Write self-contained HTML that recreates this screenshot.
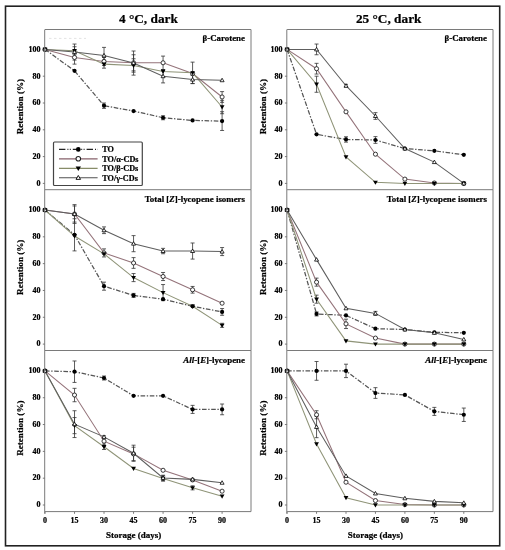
<!DOCTYPE html>
<html><head><meta charset="utf-8"><style>html,body{margin:0;padding:0;background:#fff;width:505px;height:550px;overflow:hidden}svg{display:block;will-change:transform}text{stroke:#000;stroke-width:0.22px}</style></head>
<body><svg width="505" height="550" viewBox="0 0 505 550" font-family='"Liberation Serif", serif' fill="#000"><rect x="0" y="0" width="505" height="550" fill="#fff"/>
<rect x="5.5" y="6.2" width="494.2" height="539.6" fill="none" stroke="#222" stroke-width="1.6"/>
<text x="148.4" y="22.8" text-anchor="middle" font-size="13.3" font-weight="bold">4 °C, dark</text>
<text x="388.7" y="22.8" text-anchor="middle" font-size="13.3" font-weight="bold">25 °C, dark</text>
<path d="M45.00,29.50 H251.00 V189.70" fill="none" stroke="#7a7a7a" stroke-width="1"/>
<line x1="42.80" y1="183.40" x2="45.00" y2="183.40" stroke="#7a7a7a" stroke-width="1"/>
<text x="40.40" y="185.70" text-anchor="end" font-size="8" font-weight="bold">0</text>
<line x1="42.80" y1="156.60" x2="45.00" y2="156.60" stroke="#7a7a7a" stroke-width="1"/>
<text x="40.40" y="158.90" text-anchor="end" font-size="8" font-weight="bold">20</text>
<line x1="42.80" y1="129.80" x2="45.00" y2="129.80" stroke="#7a7a7a" stroke-width="1"/>
<text x="40.40" y="132.10" text-anchor="end" font-size="8" font-weight="bold">40</text>
<line x1="42.80" y1="103.00" x2="45.00" y2="103.00" stroke="#7a7a7a" stroke-width="1"/>
<text x="40.40" y="105.30" text-anchor="end" font-size="8" font-weight="bold">60</text>
<line x1="42.80" y1="76.20" x2="45.00" y2="76.20" stroke="#7a7a7a" stroke-width="1"/>
<text x="40.40" y="78.50" text-anchor="end" font-size="8" font-weight="bold">80</text>
<line x1="42.80" y1="49.40" x2="45.00" y2="49.40" stroke="#7a7a7a" stroke-width="1"/>
<text x="40.40" y="51.70" text-anchor="end" font-size="8" font-weight="bold">100</text>
<text transform="translate(23.20,106.60) rotate(-90)" text-anchor="middle" font-size="9.1" font-weight="bold">Retention (%)</text>
<text x="245.00" y="41.30" text-anchor="end" font-size="8.9" font-weight="bold">β-Carotene</text>
<path d="M74.52,50.74 V64.14 M72.52,50.74 H76.52 M72.52,64.14 H76.52" stroke="#333" stroke-width="0.8" fill="none"/>
<path d="M74.52,46.72 V54.76 M72.52,46.72 H76.52 M72.52,54.76 H76.52" stroke="#333" stroke-width="0.8" fill="none"/>
<path d="M74.52,44.04 V60.12 M72.52,44.04 H76.52 M72.52,60.12 H76.52" stroke="#333" stroke-width="0.8" fill="none"/>
<path d="M104.03,47.39 V63.47 M102.03,47.39 H106.03 M102.03,63.47 H106.03" stroke="#333" stroke-width="0.8" fill="none"/>
<path d="M104.03,57.44 V65.48 M102.03,57.44 H106.03 M102.03,65.48 H106.03" stroke="#333" stroke-width="0.8" fill="none"/>
<path d="M104.03,60.12 V68.16 M102.03,60.12 H106.03 M102.03,68.16 H106.03" stroke="#333" stroke-width="0.8" fill="none"/>
<path d="M104.03,103.00 V108.36 M102.03,103.00 H106.03 M102.03,108.36 H106.03" stroke="#333" stroke-width="0.8" fill="none"/>
<path d="M133.55,51.01 V75.13 M131.55,51.01 H135.55 M131.55,75.13 H135.55" stroke="#333" stroke-width="0.8" fill="none"/>
<path d="M133.55,54.76 V70.84 M131.55,54.76 H135.55 M131.55,70.84 H135.55" stroke="#333" stroke-width="0.8" fill="none"/>
<path d="M133.55,58.78 V72.18 M131.55,58.78 H135.55 M131.55,72.18 H135.55" stroke="#333" stroke-width="0.8" fill="none"/>
<path d="M163.07,69.50 V82.90 M161.07,69.50 H165.07 M161.07,82.90 H165.07" stroke="#333" stroke-width="0.8" fill="none"/>
<path d="M163.07,56.10 V69.50 M161.07,56.10 H165.07 M161.07,69.50 H165.07" stroke="#333" stroke-width="0.8" fill="none"/>
<path d="M192.58,62.13 V83.57 M190.58,62.13 H194.58 M190.58,83.57 H194.58" stroke="#333" stroke-width="0.8" fill="none"/>
<path d="M192.58,75.53 V83.57 M190.58,75.53 H194.58 M190.58,83.57 H194.58" stroke="#333" stroke-width="0.8" fill="none"/>
<path d="M222.10,91.61 V102.33 M220.10,91.61 H224.10 M220.10,102.33 H224.10" stroke="#333" stroke-width="0.8" fill="none"/>
<path d="M222.10,100.32 V113.72 M220.10,100.32 H224.10 M220.10,113.72 H224.10" stroke="#333" stroke-width="0.8" fill="none"/>
<path d="M222.10,111.71 V130.47 M220.10,111.71 H224.10 M220.10,130.47 H224.10" stroke="#333" stroke-width="0.8" fill="none"/>
<path d="M163.07,115.73 V119.75 M161.07,115.73 H165.07 M161.07,119.75 H165.07" stroke="#333" stroke-width="0.8" fill="none"/>
<polyline points="45.00,49.40 74.52,70.84 104.03,105.68 133.55,111.04 163.07,117.74 192.58,120.42 222.10,121.09" fill="none" stroke="#555555" stroke-width="1.25" stroke-dasharray="4.6,1.6,1.4,1.6"/>
<polyline points="45.00,49.40 74.52,57.44 104.03,61.46 133.55,62.80 163.07,62.80 192.58,73.52 222.10,96.97" fill="none" stroke="#94737a" stroke-width="1.05"/>
<polyline points="45.00,49.40 74.52,50.74 104.03,64.14 133.55,65.48 163.07,71.51 192.58,72.85 222.10,107.02" fill="none" stroke="#8f9478" stroke-width="1.05"/>
<polyline points="45.00,49.40 74.52,52.08 104.03,55.43 133.55,63.07 163.07,76.20 192.58,79.55 222.10,80.22" fill="none" stroke="#5e5e5e" stroke-width="1.05"/>
<circle cx="45.00" cy="49.40" r="2.1" fill="#000"/>
<circle cx="74.52" cy="70.84" r="2.1" fill="#000"/>
<circle cx="104.03" cy="105.68" r="2.1" fill="#000"/>
<circle cx="133.55" cy="111.04" r="2.1" fill="#000"/>
<circle cx="163.07" cy="117.74" r="2.1" fill="#000"/>
<circle cx="192.58" cy="120.42" r="2.1" fill="#000"/>
<circle cx="222.10" cy="121.09" r="2.1" fill="#000"/>
<circle cx="45.00" cy="49.40" r="2.05" fill="#fff" stroke="#222" stroke-width="0.9"/>
<circle cx="74.52" cy="57.44" r="2.05" fill="#fff" stroke="#222" stroke-width="0.9"/>
<circle cx="104.03" cy="61.46" r="2.05" fill="#fff" stroke="#222" stroke-width="0.9"/>
<circle cx="133.55" cy="62.80" r="2.05" fill="#fff" stroke="#222" stroke-width="0.9"/>
<circle cx="163.07" cy="62.80" r="2.05" fill="#fff" stroke="#222" stroke-width="0.9"/>
<circle cx="192.58" cy="73.52" r="2.05" fill="#fff" stroke="#222" stroke-width="0.9"/>
<circle cx="222.10" cy="96.97" r="2.05" fill="#fff" stroke="#222" stroke-width="0.9"/>
<path d="M42.60,47.70 L47.40,47.70 L45.00,51.90 Z" fill="#000"/>
<path d="M72.12,49.04 L76.92,49.04 L74.52,53.24 Z" fill="#000"/>
<path d="M101.63,62.44 L106.43,62.44 L104.03,66.64 Z" fill="#000"/>
<path d="M131.15,63.78 L135.95,63.78 L133.55,67.98 Z" fill="#000"/>
<path d="M160.67,69.81 L165.47,69.81 L163.07,74.01 Z" fill="#000"/>
<path d="M190.18,71.15 L194.98,71.15 L192.58,75.35 Z" fill="#000"/>
<path d="M219.70,105.32 L224.50,105.32 L222.10,109.52 Z" fill="#000"/>
<path d="M43.00,50.90 L47.00,50.90 L45.00,47.40 Z" fill="#fff" stroke="#000" stroke-width="0.8"/>
<path d="M72.52,53.58 L76.52,53.58 L74.52,50.08 Z" fill="#fff" stroke="#000" stroke-width="0.8"/>
<path d="M102.03,56.93 L106.03,56.93 L104.03,53.43 Z" fill="#fff" stroke="#000" stroke-width="0.8"/>
<path d="M131.55,64.57 L135.55,64.57 L133.55,61.07 Z" fill="#fff" stroke="#000" stroke-width="0.8"/>
<path d="M161.07,77.70 L165.07,77.70 L163.07,74.20 Z" fill="#fff" stroke="#000" stroke-width="0.8"/>
<path d="M190.58,81.05 L194.58,81.05 L192.58,77.55 Z" fill="#fff" stroke="#000" stroke-width="0.8"/>
<path d="M220.10,81.72 L224.10,81.72 L222.10,78.22 Z" fill="#fff" stroke="#000" stroke-width="0.8"/>
<path d="M45.00,189.70 H251.00 V350.50" fill="none" stroke="#7a7a7a" stroke-width="1"/>
<line x1="42.80" y1="344.10" x2="45.00" y2="344.10" stroke="#7a7a7a" stroke-width="1"/>
<text x="40.40" y="346.40" text-anchor="end" font-size="8" font-weight="bold">0</text>
<line x1="42.80" y1="317.28" x2="45.00" y2="317.28" stroke="#7a7a7a" stroke-width="1"/>
<text x="40.40" y="319.58" text-anchor="end" font-size="8" font-weight="bold">20</text>
<line x1="42.80" y1="290.46" x2="45.00" y2="290.46" stroke="#7a7a7a" stroke-width="1"/>
<text x="40.40" y="292.76" text-anchor="end" font-size="8" font-weight="bold">40</text>
<line x1="42.80" y1="263.64" x2="45.00" y2="263.64" stroke="#7a7a7a" stroke-width="1"/>
<text x="40.40" y="265.94" text-anchor="end" font-size="8" font-weight="bold">60</text>
<line x1="42.80" y1="236.82" x2="45.00" y2="236.82" stroke="#7a7a7a" stroke-width="1"/>
<text x="40.40" y="239.12" text-anchor="end" font-size="8" font-weight="bold">80</text>
<line x1="42.80" y1="210.00" x2="45.00" y2="210.00" stroke="#7a7a7a" stroke-width="1"/>
<text x="40.40" y="212.30" text-anchor="end" font-size="8" font-weight="bold">100</text>
<text transform="translate(23.20,267.25) rotate(-90)" text-anchor="middle" font-size="9.1" font-weight="bold">Retention (%)</text>
<text x="245.00" y="202.30" text-anchor="end" font-size="8.9" font-weight="bold">Total [<tspan font-style="italic">Z</tspan>]-lycopene isomers</text>
<path d="M74.52,204.64 V223.41 M72.52,204.64 H76.52 M72.52,223.41 H76.52" stroke="#333" stroke-width="0.8" fill="none"/>
<path d="M74.52,205.98 V222.07 M72.52,205.98 H76.52 M72.52,222.07 H76.52" stroke="#333" stroke-width="0.8" fill="none"/>
<path d="M74.52,218.72 V250.90 M72.52,218.72 H76.52 M72.52,250.90 H76.52" stroke="#333" stroke-width="0.8" fill="none"/>
<path d="M104.03,226.90 V233.60 M102.03,226.90 H106.03 M102.03,233.60 H106.03" stroke="#333" stroke-width="0.8" fill="none"/>
<path d="M104.03,248.89 V256.94 M102.03,248.89 H106.03 M102.03,256.94 H106.03" stroke="#333" stroke-width="0.8" fill="none"/>
<path d="M104.03,282.15 V290.19 M102.03,282.15 H106.03 M102.03,290.19 H106.03" stroke="#333" stroke-width="0.8" fill="none"/>
<path d="M133.55,235.61 V251.71 M131.55,235.61 H135.55 M131.55,251.71 H135.55" stroke="#333" stroke-width="0.8" fill="none"/>
<path d="M133.55,257.61 V268.33 M131.55,257.61 H135.55 M131.55,268.33 H135.55" stroke="#333" stroke-width="0.8" fill="none"/>
<path d="M133.55,273.56 V281.61 M131.55,273.56 H135.55 M131.55,281.61 H135.55" stroke="#333" stroke-width="0.8" fill="none"/>
<path d="M133.55,293.41 V297.43 M131.55,293.41 H135.55 M131.55,297.43 H135.55" stroke="#333" stroke-width="0.8" fill="none"/>
<path d="M163.07,248.35 V253.72 M161.07,248.35 H165.07 M161.07,253.72 H165.07" stroke="#333" stroke-width="0.8" fill="none"/>
<path d="M163.07,272.49 V280.54 M161.07,272.49 H165.07 M161.07,280.54 H165.07" stroke="#333" stroke-width="0.8" fill="none"/>
<path d="M163.07,284.56 V300.65 M161.07,284.56 H165.07 M161.07,300.65 H165.07" stroke="#333" stroke-width="0.8" fill="none"/>
<path d="M192.58,242.99 V259.08 M190.58,242.99 H194.58 M190.58,259.08 H194.58" stroke="#333" stroke-width="0.8" fill="none"/>
<path d="M192.58,286.44 V293.14 M190.58,286.44 H194.58 M190.58,293.14 H194.58" stroke="#333" stroke-width="0.8" fill="none"/>
<path d="M222.10,247.55 V255.59 M220.10,247.55 H224.10 M220.10,255.59 H224.10" stroke="#333" stroke-width="0.8" fill="none"/>
<path d="M222.10,308.56 V315.27 M220.10,308.56 H224.10 M220.10,315.27 H224.10" stroke="#333" stroke-width="0.8" fill="none"/>
<path d="M222.10,323.31 V327.34 M220.10,323.31 H224.10 M220.10,327.34 H224.10" stroke="#333" stroke-width="0.8" fill="none"/>
<polyline points="45.00,210.00 74.52,234.81 104.03,286.17 133.55,295.42 163.07,299.18 192.58,306.28 222.10,311.92" fill="none" stroke="#555555" stroke-width="1.25" stroke-dasharray="4.6,1.6,1.4,1.6"/>
<polyline points="45.00,210.00 74.52,214.02 104.03,252.91 133.55,262.97 163.07,276.51 192.58,289.79 222.10,303.20" fill="none" stroke="#94737a" stroke-width="1.05"/>
<polyline points="45.00,210.00 74.52,236.02 104.03,253.85 133.55,277.59 163.07,292.61 192.58,306.28 222.10,325.33" fill="none" stroke="#8f9478" stroke-width="1.05"/>
<polyline points="45.00,210.00 74.52,214.02 104.03,230.25 133.55,243.66 163.07,251.03 192.58,251.03 222.10,251.57" fill="none" stroke="#5e5e5e" stroke-width="1.05"/>
<circle cx="45.00" cy="210.00" r="2.1" fill="#000"/>
<circle cx="74.52" cy="234.81" r="2.1" fill="#000"/>
<circle cx="104.03" cy="286.17" r="2.1" fill="#000"/>
<circle cx="133.55" cy="295.42" r="2.1" fill="#000"/>
<circle cx="163.07" cy="299.18" r="2.1" fill="#000"/>
<circle cx="192.58" cy="306.28" r="2.1" fill="#000"/>
<circle cx="222.10" cy="311.92" r="2.1" fill="#000"/>
<circle cx="45.00" cy="210.00" r="2.05" fill="#fff" stroke="#222" stroke-width="0.9"/>
<circle cx="74.52" cy="214.02" r="2.05" fill="#fff" stroke="#222" stroke-width="0.9"/>
<circle cx="104.03" cy="252.91" r="2.05" fill="#fff" stroke="#222" stroke-width="0.9"/>
<circle cx="133.55" cy="262.97" r="2.05" fill="#fff" stroke="#222" stroke-width="0.9"/>
<circle cx="163.07" cy="276.51" r="2.05" fill="#fff" stroke="#222" stroke-width="0.9"/>
<circle cx="192.58" cy="289.79" r="2.05" fill="#fff" stroke="#222" stroke-width="0.9"/>
<circle cx="222.10" cy="303.20" r="2.05" fill="#fff" stroke="#222" stroke-width="0.9"/>
<path d="M42.60,208.30 L47.40,208.30 L45.00,212.50 Z" fill="#000"/>
<path d="M72.12,234.32 L76.92,234.32 L74.52,238.52 Z" fill="#000"/>
<path d="M101.63,252.15 L106.43,252.15 L104.03,256.35 Z" fill="#000"/>
<path d="M131.15,275.89 L135.95,275.89 L133.55,280.09 Z" fill="#000"/>
<path d="M160.67,290.91 L165.47,290.91 L163.07,295.11 Z" fill="#000"/>
<path d="M190.18,304.58 L194.98,304.58 L192.58,308.78 Z" fill="#000"/>
<path d="M219.70,323.63 L224.50,323.63 L222.10,327.83 Z" fill="#000"/>
<path d="M43.00,211.50 L47.00,211.50 L45.00,208.00 Z" fill="#fff" stroke="#000" stroke-width="0.8"/>
<path d="M72.52,215.52 L76.52,215.52 L74.52,212.02 Z" fill="#fff" stroke="#000" stroke-width="0.8"/>
<path d="M102.03,231.75 L106.03,231.75 L104.03,228.25 Z" fill="#fff" stroke="#000" stroke-width="0.8"/>
<path d="M131.55,245.16 L135.55,245.16 L133.55,241.66 Z" fill="#fff" stroke="#000" stroke-width="0.8"/>
<path d="M161.07,252.53 L165.07,252.53 L163.07,249.03 Z" fill="#fff" stroke="#000" stroke-width="0.8"/>
<path d="M190.58,252.53 L194.58,252.53 L192.58,249.03 Z" fill="#fff" stroke="#000" stroke-width="0.8"/>
<path d="M220.10,253.07 L224.10,253.07 L222.10,249.57 Z" fill="#fff" stroke="#000" stroke-width="0.8"/>
<path d="M45.00,350.50 H251.00 V511.60" fill="none" stroke="#7a7a7a" stroke-width="1"/>
<line x1="42.80" y1="505.00" x2="45.00" y2="505.00" stroke="#7a7a7a" stroke-width="1"/>
<text x="40.40" y="507.30" text-anchor="end" font-size="8" font-weight="bold">0</text>
<line x1="42.80" y1="478.18" x2="45.00" y2="478.18" stroke="#7a7a7a" stroke-width="1"/>
<text x="40.40" y="480.48" text-anchor="end" font-size="8" font-weight="bold">20</text>
<line x1="42.80" y1="451.36" x2="45.00" y2="451.36" stroke="#7a7a7a" stroke-width="1"/>
<text x="40.40" y="453.66" text-anchor="end" font-size="8" font-weight="bold">40</text>
<line x1="42.80" y1="424.54" x2="45.00" y2="424.54" stroke="#7a7a7a" stroke-width="1"/>
<text x="40.40" y="426.84" text-anchor="end" font-size="8" font-weight="bold">60</text>
<line x1="42.80" y1="397.72" x2="45.00" y2="397.72" stroke="#7a7a7a" stroke-width="1"/>
<text x="40.40" y="400.02" text-anchor="end" font-size="8" font-weight="bold">80</text>
<line x1="42.80" y1="370.90" x2="45.00" y2="370.90" stroke="#7a7a7a" stroke-width="1"/>
<text x="40.40" y="373.20" text-anchor="end" font-size="8" font-weight="bold">100</text>
<text transform="translate(23.20,428.15) rotate(-90)" text-anchor="middle" font-size="9.1" font-weight="bold">Retention (%)</text>
<text x="245.00" y="363.10" text-anchor="end" font-size="8.9" font-weight="bold"><tspan font-style="italic">All</tspan>-[<tspan font-style="italic">E</tspan>]-lycopene</text>
<path d="M74.52,360.98 V382.43 M72.52,360.98 H76.52 M72.52,382.43 H76.52" stroke="#333" stroke-width="0.8" fill="none"/>
<path d="M74.52,388.33 V401.74 M72.52,388.33 H76.52 M72.52,401.74 H76.52" stroke="#333" stroke-width="0.8" fill="none"/>
<path d="M74.52,410.73 V437.55 M72.52,410.73 H76.52 M72.52,437.55 H76.52" stroke="#333" stroke-width="0.8" fill="none"/>
<path d="M74.52,417.57 V433.66 M72.52,417.57 H76.52 M72.52,433.66 H76.52" stroke="#333" stroke-width="0.8" fill="none"/>
<path d="M104.03,376.00 V380.02 M102.03,376.00 H106.03 M102.03,380.02 H106.03" stroke="#333" stroke-width="0.8" fill="none"/>
<path d="M104.03,435.80 V446.53 M102.03,435.80 H106.03 M102.03,446.53 H106.03" stroke="#333" stroke-width="0.8" fill="none"/>
<path d="M104.03,444.12 V449.48 M102.03,444.12 H106.03 M102.03,449.48 H106.03" stroke="#333" stroke-width="0.8" fill="none"/>
<path d="M133.55,445.19 V461.28 M131.55,445.19 H135.55 M131.55,461.28 H135.55" stroke="#333" stroke-width="0.8" fill="none"/>
<path d="M133.55,447.20 V460.61 M131.55,447.20 H135.55 M131.55,460.61 H135.55" stroke="#333" stroke-width="0.8" fill="none"/>
<path d="M163.07,475.23 V480.59 M161.07,475.23 H165.07 M161.07,480.59 H165.07" stroke="#333" stroke-width="0.8" fill="none"/>
<path d="M163.07,475.77 V481.13 M161.07,475.77 H165.07 M161.07,481.13 H165.07" stroke="#333" stroke-width="0.8" fill="none"/>
<path d="M192.58,405.36 V413.41 M190.58,405.36 H194.58 M190.58,413.41 H194.58" stroke="#333" stroke-width="0.8" fill="none"/>
<path d="M222.10,404.02 V414.75 M220.10,404.02 H224.10 M220.10,414.75 H224.10" stroke="#333" stroke-width="0.8" fill="none"/>
<path d="M192.58,485.82 V489.85 M190.58,485.82 H194.58 M190.58,489.85 H194.58" stroke="#333" stroke-width="0.8" fill="none"/>
<polyline points="45.00,370.90 74.52,371.70 104.03,378.01 133.55,395.84 163.07,395.84 192.58,409.39 222.10,409.39" fill="none" stroke="#555555" stroke-width="1.25" stroke-dasharray="4.6,1.6,1.4,1.6"/>
<polyline points="45.00,370.90 74.52,395.04 104.03,441.17 133.55,453.91 163.07,470.27 192.58,479.92 222.10,491.19" fill="none" stroke="#94737a" stroke-width="1.05"/>
<polyline points="45.00,370.90 74.52,425.61 104.03,446.80 133.55,468.52 163.07,478.45 192.58,487.84 222.10,496.28" fill="none" stroke="#8f9478" stroke-width="1.05"/>
<polyline points="45.00,370.90 74.52,424.14 104.03,436.88 133.55,453.24 163.07,477.91 192.58,479.39 222.10,482.74" fill="none" stroke="#5e5e5e" stroke-width="1.05"/>
<circle cx="45.00" cy="370.90" r="2.1" fill="#000"/>
<circle cx="74.52" cy="371.70" r="2.1" fill="#000"/>
<circle cx="104.03" cy="378.01" r="2.1" fill="#000"/>
<circle cx="133.55" cy="395.84" r="2.1" fill="#000"/>
<circle cx="163.07" cy="395.84" r="2.1" fill="#000"/>
<circle cx="192.58" cy="409.39" r="2.1" fill="#000"/>
<circle cx="222.10" cy="409.39" r="2.1" fill="#000"/>
<circle cx="45.00" cy="370.90" r="2.05" fill="#fff" stroke="#222" stroke-width="0.9"/>
<circle cx="74.52" cy="395.04" r="2.05" fill="#fff" stroke="#222" stroke-width="0.9"/>
<circle cx="104.03" cy="441.17" r="2.05" fill="#fff" stroke="#222" stroke-width="0.9"/>
<circle cx="133.55" cy="453.91" r="2.05" fill="#fff" stroke="#222" stroke-width="0.9"/>
<circle cx="163.07" cy="470.27" r="2.05" fill="#fff" stroke="#222" stroke-width="0.9"/>
<circle cx="192.58" cy="479.92" r="2.05" fill="#fff" stroke="#222" stroke-width="0.9"/>
<circle cx="222.10" cy="491.19" r="2.05" fill="#fff" stroke="#222" stroke-width="0.9"/>
<path d="M42.60,369.20 L47.40,369.20 L45.00,373.40 Z" fill="#000"/>
<path d="M72.12,423.91 L76.92,423.91 L74.52,428.11 Z" fill="#000"/>
<path d="M101.63,445.10 L106.43,445.10 L104.03,449.30 Z" fill="#000"/>
<path d="M131.15,466.82 L135.95,466.82 L133.55,471.02 Z" fill="#000"/>
<path d="M160.67,476.75 L165.47,476.75 L163.07,480.95 Z" fill="#000"/>
<path d="M190.18,486.14 L194.98,486.14 L192.58,490.34 Z" fill="#000"/>
<path d="M219.70,494.58 L224.50,494.58 L222.10,498.78 Z" fill="#000"/>
<path d="M43.00,372.40 L47.00,372.40 L45.00,368.90 Z" fill="#fff" stroke="#000" stroke-width="0.8"/>
<path d="M72.52,425.64 L76.52,425.64 L74.52,422.14 Z" fill="#fff" stroke="#000" stroke-width="0.8"/>
<path d="M102.03,438.38 L106.03,438.38 L104.03,434.88 Z" fill="#fff" stroke="#000" stroke-width="0.8"/>
<path d="M131.55,454.74 L135.55,454.74 L133.55,451.24 Z" fill="#fff" stroke="#000" stroke-width="0.8"/>
<path d="M161.07,479.41 L165.07,479.41 L163.07,475.91 Z" fill="#fff" stroke="#000" stroke-width="0.8"/>
<path d="M190.58,480.89 L194.58,480.89 L192.58,477.39 Z" fill="#fff" stroke="#000" stroke-width="0.8"/>
<path d="M220.10,484.24 L224.10,484.24 L222.10,480.74 Z" fill="#fff" stroke="#000" stroke-width="0.8"/>
<line x1="44.70" y1="29.50" x2="44.70" y2="513.60" stroke="#7a7a7a" stroke-width="1"/>
<line x1="45.00" y1="511.60" x2="251.00" y2="511.60" stroke="#7a7a7a" stroke-width="1"/>
<line x1="45.00" y1="511.60" x2="45.00" y2="513.80" stroke="#7a7a7a" stroke-width="1"/>
<text x="45.00" y="522.70" text-anchor="middle" font-size="8" font-weight="bold">0</text>
<line x1="74.52" y1="511.60" x2="74.52" y2="513.80" stroke="#7a7a7a" stroke-width="1"/>
<text x="74.52" y="522.70" text-anchor="middle" font-size="8" font-weight="bold">15</text>
<line x1="104.03" y1="511.60" x2="104.03" y2="513.80" stroke="#7a7a7a" stroke-width="1"/>
<text x="104.03" y="522.70" text-anchor="middle" font-size="8" font-weight="bold">30</text>
<line x1="133.55" y1="511.60" x2="133.55" y2="513.80" stroke="#7a7a7a" stroke-width="1"/>
<text x="133.55" y="522.70" text-anchor="middle" font-size="8" font-weight="bold">45</text>
<line x1="163.07" y1="511.60" x2="163.07" y2="513.80" stroke="#7a7a7a" stroke-width="1"/>
<text x="163.07" y="522.70" text-anchor="middle" font-size="8" font-weight="bold">60</text>
<line x1="192.58" y1="511.60" x2="192.58" y2="513.80" stroke="#7a7a7a" stroke-width="1"/>
<text x="192.58" y="522.70" text-anchor="middle" font-size="8" font-weight="bold">75</text>
<line x1="222.10" y1="511.60" x2="222.10" y2="513.80" stroke="#7a7a7a" stroke-width="1"/>
<text x="222.10" y="522.70" text-anchor="middle" font-size="8" font-weight="bold">90</text>
<text x="133.55" y="538.3" text-anchor="middle" font-size="9.0" font-weight="bold">Storage (days)</text>
<path d="M287.10,29.50 H493.00 V189.70" fill="none" stroke="#7a7a7a" stroke-width="1"/>
<line x1="284.90" y1="183.40" x2="287.10" y2="183.40" stroke="#7a7a7a" stroke-width="1"/>
<text x="282.40" y="185.70" text-anchor="end" font-size="8" font-weight="bold">0</text>
<line x1="284.90" y1="156.60" x2="287.10" y2="156.60" stroke="#7a7a7a" stroke-width="1"/>
<text x="282.40" y="158.90" text-anchor="end" font-size="8" font-weight="bold">20</text>
<line x1="284.90" y1="129.80" x2="287.10" y2="129.80" stroke="#7a7a7a" stroke-width="1"/>
<text x="282.40" y="132.10" text-anchor="end" font-size="8" font-weight="bold">40</text>
<line x1="284.90" y1="103.00" x2="287.10" y2="103.00" stroke="#7a7a7a" stroke-width="1"/>
<text x="282.40" y="105.30" text-anchor="end" font-size="8" font-weight="bold">60</text>
<line x1="284.90" y1="76.20" x2="287.10" y2="76.20" stroke="#7a7a7a" stroke-width="1"/>
<text x="282.40" y="78.50" text-anchor="end" font-size="8" font-weight="bold">80</text>
<line x1="284.90" y1="49.40" x2="287.10" y2="49.40" stroke="#7a7a7a" stroke-width="1"/>
<text x="282.40" y="51.70" text-anchor="end" font-size="8" font-weight="bold">100</text>
<text transform="translate(265.50,106.60) rotate(-90)" text-anchor="middle" font-size="9.1" font-weight="bold">Retention (%)</text>
<text x="487.00" y="41.30" text-anchor="end" font-size="8.9" font-weight="bold">β-Carotene</text>
<path d="M316.55,44.04 V54.76 M314.55,44.04 H318.55 M314.55,54.76 H318.55" stroke="#333" stroke-width="0.8" fill="none"/>
<path d="M316.55,63.34 V74.06 M314.55,63.34 H318.55 M314.55,74.06 H318.55" stroke="#333" stroke-width="0.8" fill="none"/>
<path d="M316.55,76.20 V92.28 M314.55,76.20 H318.55 M314.55,92.28 H318.55" stroke="#333" stroke-width="0.8" fill="none"/>
<path d="M346.00,84.37 V87.05 M344.00,84.37 H348.00 M344.00,87.05 H348.00" stroke="#333" stroke-width="0.8" fill="none"/>
<path d="M375.45,112.65 V119.35 M373.45,112.65 H377.45 M373.45,119.35 H377.45" stroke="#333" stroke-width="0.8" fill="none"/>
<path d="M375.45,136.63 V143.33 M373.45,136.63 H377.45 M373.45,143.33 H377.45" stroke="#333" stroke-width="0.8" fill="none"/>
<path d="M346.00,136.77 V142.13 M344.00,136.77 H348.00 M344.00,142.13 H348.00" stroke="#333" stroke-width="0.8" fill="none"/>
<polyline points="287.10,49.40 316.55,134.36 346.00,139.45 375.45,139.98 404.90,148.56 434.35,150.84 463.80,154.86" fill="none" stroke="#555555" stroke-width="1.25" stroke-dasharray="4.6,1.6,1.4,1.6"/>
<polyline points="287.10,49.40 316.55,68.70 346.00,111.84 375.45,154.19 404.90,179.11 434.35,183.00 463.80,183.40" fill="none" stroke="#94737a" stroke-width="1.05"/>
<polyline points="287.10,49.40 316.55,84.24 346.00,157.00 375.45,182.33 404.90,183.40 434.35,183.40 463.80,183.40" fill="none" stroke="#8f9478" stroke-width="1.05"/>
<polyline points="287.10,49.40 316.55,49.40 346.00,85.71 375.45,116.00 404.90,148.56 434.35,162.09 463.80,183.40" fill="none" stroke="#5e5e5e" stroke-width="1.05"/>
<circle cx="287.10" cy="49.40" r="2.1" fill="#000"/>
<circle cx="316.55" cy="134.36" r="2.1" fill="#000"/>
<circle cx="346.00" cy="139.45" r="2.1" fill="#000"/>
<circle cx="375.45" cy="139.98" r="2.1" fill="#000"/>
<circle cx="404.90" cy="148.56" r="2.1" fill="#000"/>
<circle cx="434.35" cy="150.84" r="2.1" fill="#000"/>
<circle cx="463.80" cy="154.86" r="2.1" fill="#000"/>
<circle cx="287.10" cy="49.40" r="2.05" fill="#fff" stroke="#222" stroke-width="0.9"/>
<circle cx="316.55" cy="68.70" r="2.05" fill="#fff" stroke="#222" stroke-width="0.9"/>
<circle cx="346.00" cy="111.84" r="2.05" fill="#fff" stroke="#222" stroke-width="0.9"/>
<circle cx="375.45" cy="154.19" r="2.05" fill="#fff" stroke="#222" stroke-width="0.9"/>
<circle cx="404.90" cy="179.11" r="2.05" fill="#fff" stroke="#222" stroke-width="0.9"/>
<circle cx="434.35" cy="183.00" r="2.05" fill="#fff" stroke="#222" stroke-width="0.9"/>
<circle cx="463.80" cy="183.40" r="2.05" fill="#fff" stroke="#222" stroke-width="0.9"/>
<path d="M284.70,47.70 L289.50,47.70 L287.10,51.90 Z" fill="#000"/>
<path d="M314.15,82.54 L318.95,82.54 L316.55,86.74 Z" fill="#000"/>
<path d="M343.60,155.30 L348.40,155.30 L346.00,159.50 Z" fill="#000"/>
<path d="M373.05,180.63 L377.85,180.63 L375.45,184.83 Z" fill="#000"/>
<path d="M402.50,181.70 L407.30,181.70 L404.90,185.90 Z" fill="#000"/>
<path d="M431.95,181.70 L436.75,181.70 L434.35,185.90 Z" fill="#000"/>
<path d="M461.40,181.70 L466.20,181.70 L463.80,185.90 Z" fill="#000"/>
<path d="M285.10,50.90 L289.10,50.90 L287.10,47.40 Z" fill="#fff" stroke="#000" stroke-width="0.8"/>
<path d="M314.55,50.90 L318.55,50.90 L316.55,47.40 Z" fill="#fff" stroke="#000" stroke-width="0.8"/>
<path d="M344.00,87.21 L348.00,87.21 L346.00,83.71 Z" fill="#fff" stroke="#000" stroke-width="0.8"/>
<path d="M373.45,117.50 L377.45,117.50 L375.45,114.00 Z" fill="#fff" stroke="#000" stroke-width="0.8"/>
<path d="M402.90,150.06 L406.90,150.06 L404.90,146.56 Z" fill="#fff" stroke="#000" stroke-width="0.8"/>
<path d="M432.35,163.59 L436.35,163.59 L434.35,160.09 Z" fill="#fff" stroke="#000" stroke-width="0.8"/>
<path d="M461.80,184.90 L465.80,184.90 L463.80,181.40 Z" fill="#fff" stroke="#000" stroke-width="0.8"/>
<path d="M287.10,189.70 H493.00 V350.50" fill="none" stroke="#7a7a7a" stroke-width="1"/>
<line x1="284.90" y1="344.10" x2="287.10" y2="344.10" stroke="#7a7a7a" stroke-width="1"/>
<text x="282.40" y="346.40" text-anchor="end" font-size="8" font-weight="bold">0</text>
<line x1="284.90" y1="317.28" x2="287.10" y2="317.28" stroke="#7a7a7a" stroke-width="1"/>
<text x="282.40" y="319.58" text-anchor="end" font-size="8" font-weight="bold">20</text>
<line x1="284.90" y1="290.46" x2="287.10" y2="290.46" stroke="#7a7a7a" stroke-width="1"/>
<text x="282.40" y="292.76" text-anchor="end" font-size="8" font-weight="bold">40</text>
<line x1="284.90" y1="263.64" x2="287.10" y2="263.64" stroke="#7a7a7a" stroke-width="1"/>
<text x="282.40" y="265.94" text-anchor="end" font-size="8" font-weight="bold">60</text>
<line x1="284.90" y1="236.82" x2="287.10" y2="236.82" stroke="#7a7a7a" stroke-width="1"/>
<text x="282.40" y="239.12" text-anchor="end" font-size="8" font-weight="bold">80</text>
<line x1="284.90" y1="210.00" x2="287.10" y2="210.00" stroke="#7a7a7a" stroke-width="1"/>
<text x="282.40" y="212.30" text-anchor="end" font-size="8" font-weight="bold">100</text>
<text transform="translate(265.50,267.25) rotate(-90)" text-anchor="middle" font-size="9.1" font-weight="bold">Retention (%)</text>
<text x="487.00" y="202.30" text-anchor="end" font-size="8.9" font-weight="bold">Total [<tspan font-style="italic">Z</tspan>]-lycopene isomers</text>
<path d="M316.55,278.12 V286.17 M314.55,278.12 H318.55 M314.55,286.17 H318.55" stroke="#333" stroke-width="0.8" fill="none"/>
<path d="M316.55,295.15 V303.20 M314.55,295.15 H318.55 M314.55,303.20 H318.55" stroke="#333" stroke-width="0.8" fill="none"/>
<path d="M316.55,311.92 V315.94 M314.55,311.92 H318.55 M314.55,315.94 H318.55" stroke="#333" stroke-width="0.8" fill="none"/>
<path d="M346.00,319.16 V328.54 M344.00,319.16 H348.00 M344.00,328.54 H348.00" stroke="#333" stroke-width="0.8" fill="none"/>
<path d="M375.45,311.38 V315.40 M373.45,311.38 H377.45 M373.45,315.40 H377.45" stroke="#333" stroke-width="0.8" fill="none"/>
<polyline points="287.10,210.00 316.55,313.93 346.00,315.40 375.45,328.68 404.90,329.48 434.35,332.30 463.80,332.84" fill="none" stroke="#555555" stroke-width="1.25" stroke-dasharray="4.6,1.6,1.4,1.6"/>
<polyline points="287.10,210.00 316.55,282.15 346.00,323.85 375.45,338.07 404.90,344.10 434.35,344.10 463.80,344.10" fill="none" stroke="#94737a" stroke-width="1.05"/>
<polyline points="287.10,210.00 316.55,299.18 346.00,340.88 375.45,344.10 404.90,344.10 434.35,344.10 463.80,344.10" fill="none" stroke="#8f9478" stroke-width="1.05"/>
<polyline points="287.10,210.00 316.55,259.62 346.00,308.30 375.45,313.39 404.90,329.48 434.35,332.84 463.80,339.41" fill="none" stroke="#5e5e5e" stroke-width="1.05"/>
<circle cx="287.10" cy="210.00" r="2.1" fill="#000"/>
<circle cx="316.55" cy="313.93" r="2.1" fill="#000"/>
<circle cx="346.00" cy="315.40" r="2.1" fill="#000"/>
<circle cx="375.45" cy="328.68" r="2.1" fill="#000"/>
<circle cx="404.90" cy="329.48" r="2.1" fill="#000"/>
<circle cx="434.35" cy="332.30" r="2.1" fill="#000"/>
<circle cx="463.80" cy="332.84" r="2.1" fill="#000"/>
<circle cx="287.10" cy="210.00" r="2.05" fill="#fff" stroke="#222" stroke-width="0.9"/>
<circle cx="316.55" cy="282.15" r="2.05" fill="#fff" stroke="#222" stroke-width="0.9"/>
<circle cx="346.00" cy="323.85" r="2.05" fill="#fff" stroke="#222" stroke-width="0.9"/>
<circle cx="375.45" cy="338.07" r="2.05" fill="#fff" stroke="#222" stroke-width="0.9"/>
<circle cx="404.90" cy="344.10" r="2.05" fill="#fff" stroke="#222" stroke-width="0.9"/>
<circle cx="434.35" cy="344.10" r="2.05" fill="#fff" stroke="#222" stroke-width="0.9"/>
<circle cx="463.80" cy="344.10" r="2.05" fill="#fff" stroke="#222" stroke-width="0.9"/>
<path d="M284.70,208.30 L289.50,208.30 L287.10,212.50 Z" fill="#000"/>
<path d="M314.15,297.48 L318.95,297.48 L316.55,301.68 Z" fill="#000"/>
<path d="M343.60,339.18 L348.40,339.18 L346.00,343.38 Z" fill="#000"/>
<path d="M373.05,342.40 L377.85,342.40 L375.45,346.60 Z" fill="#000"/>
<path d="M402.50,342.40 L407.30,342.40 L404.90,346.60 Z" fill="#000"/>
<path d="M431.95,342.40 L436.75,342.40 L434.35,346.60 Z" fill="#000"/>
<path d="M461.40,342.40 L466.20,342.40 L463.80,346.60 Z" fill="#000"/>
<path d="M285.10,211.50 L289.10,211.50 L287.10,208.00 Z" fill="#fff" stroke="#000" stroke-width="0.8"/>
<path d="M314.55,261.12 L318.55,261.12 L316.55,257.62 Z" fill="#fff" stroke="#000" stroke-width="0.8"/>
<path d="M344.00,309.80 L348.00,309.80 L346.00,306.30 Z" fill="#fff" stroke="#000" stroke-width="0.8"/>
<path d="M373.45,314.89 L377.45,314.89 L375.45,311.39 Z" fill="#fff" stroke="#000" stroke-width="0.8"/>
<path d="M402.90,330.98 L406.90,330.98 L404.90,327.48 Z" fill="#fff" stroke="#000" stroke-width="0.8"/>
<path d="M432.35,334.34 L436.35,334.34 L434.35,330.84 Z" fill="#fff" stroke="#000" stroke-width="0.8"/>
<path d="M461.80,340.91 L465.80,340.91 L463.80,337.41 Z" fill="#fff" stroke="#000" stroke-width="0.8"/>
<path d="M287.10,350.50 H493.00 V511.60" fill="none" stroke="#7a7a7a" stroke-width="1"/>
<line x1="284.90" y1="505.00" x2="287.10" y2="505.00" stroke="#7a7a7a" stroke-width="1"/>
<text x="282.40" y="507.30" text-anchor="end" font-size="8" font-weight="bold">0</text>
<line x1="284.90" y1="478.18" x2="287.10" y2="478.18" stroke="#7a7a7a" stroke-width="1"/>
<text x="282.40" y="480.48" text-anchor="end" font-size="8" font-weight="bold">20</text>
<line x1="284.90" y1="451.36" x2="287.10" y2="451.36" stroke="#7a7a7a" stroke-width="1"/>
<text x="282.40" y="453.66" text-anchor="end" font-size="8" font-weight="bold">40</text>
<line x1="284.90" y1="424.54" x2="287.10" y2="424.54" stroke="#7a7a7a" stroke-width="1"/>
<text x="282.40" y="426.84" text-anchor="end" font-size="8" font-weight="bold">60</text>
<line x1="284.90" y1="397.72" x2="287.10" y2="397.72" stroke="#7a7a7a" stroke-width="1"/>
<text x="282.40" y="400.02" text-anchor="end" font-size="8" font-weight="bold">80</text>
<line x1="284.90" y1="370.90" x2="287.10" y2="370.90" stroke="#7a7a7a" stroke-width="1"/>
<text x="282.40" y="373.20" text-anchor="end" font-size="8" font-weight="bold">100</text>
<text transform="translate(265.50,428.15) rotate(-90)" text-anchor="middle" font-size="9.1" font-weight="bold">Retention (%)</text>
<text x="487.00" y="363.10" text-anchor="end" font-size="8.9" font-weight="bold"><tspan font-style="italic">All</tspan>-[<tspan font-style="italic">E</tspan>]-lycopene</text>
<path d="M316.55,361.51 V380.29 M314.55,361.51 H318.55 M314.55,380.29 H318.55" stroke="#333" stroke-width="0.8" fill="none"/>
<path d="M346.00,364.19 V377.60 M344.00,364.19 H348.00 M344.00,377.60 H348.00" stroke="#333" stroke-width="0.8" fill="none"/>
<path d="M375.45,387.66 V398.39 M373.45,387.66 H377.45 M373.45,398.39 H377.45" stroke="#333" stroke-width="0.8" fill="none"/>
<path d="M316.55,410.73 V418.77 M314.55,410.73 H318.55 M314.55,418.77 H318.55" stroke="#333" stroke-width="0.8" fill="none"/>
<path d="M316.55,416.23 V437.68 M314.55,416.23 H318.55 M314.55,437.68 H318.55" stroke="#333" stroke-width="0.8" fill="none"/>
<path d="M434.35,407.38 V415.42 M432.35,407.38 H436.35 M432.35,415.42 H436.35" stroke="#333" stroke-width="0.8" fill="none"/>
<path d="M463.80,408.05 V421.46 M461.80,408.05 H465.80 M461.80,421.46 H465.80" stroke="#333" stroke-width="0.8" fill="none"/>
<polyline points="287.10,370.90 316.55,370.90 346.00,370.90 375.45,393.03 404.90,394.90 434.35,411.40 463.80,414.75" fill="none" stroke="#555555" stroke-width="1.25" stroke-dasharray="4.6,1.6,1.4,1.6"/>
<polyline points="287.10,370.90 316.55,414.75 346.00,482.20 375.45,500.57 404.90,504.60 434.35,505.00 463.80,505.00" fill="none" stroke="#94737a" stroke-width="1.05"/>
<polyline points="287.10,370.90 316.55,443.98 346.00,497.76 375.45,505.00 404.90,505.00 434.35,505.00 463.80,505.00" fill="none" stroke="#8f9478" stroke-width="1.05"/>
<polyline points="287.10,370.90 316.55,426.95 346.00,475.90 375.45,493.47 404.90,498.30 434.35,501.38 463.80,502.85" fill="none" stroke="#5e5e5e" stroke-width="1.05"/>
<circle cx="287.10" cy="370.90" r="2.1" fill="#000"/>
<circle cx="316.55" cy="370.90" r="2.1" fill="#000"/>
<circle cx="346.00" cy="370.90" r="2.1" fill="#000"/>
<circle cx="375.45" cy="393.03" r="2.1" fill="#000"/>
<circle cx="404.90" cy="394.90" r="2.1" fill="#000"/>
<circle cx="434.35" cy="411.40" r="2.1" fill="#000"/>
<circle cx="463.80" cy="414.75" r="2.1" fill="#000"/>
<circle cx="287.10" cy="370.90" r="2.05" fill="#fff" stroke="#222" stroke-width="0.9"/>
<circle cx="316.55" cy="414.75" r="2.05" fill="#fff" stroke="#222" stroke-width="0.9"/>
<circle cx="346.00" cy="482.20" r="2.05" fill="#fff" stroke="#222" stroke-width="0.9"/>
<circle cx="375.45" cy="500.57" r="2.05" fill="#fff" stroke="#222" stroke-width="0.9"/>
<circle cx="404.90" cy="504.60" r="2.05" fill="#fff" stroke="#222" stroke-width="0.9"/>
<circle cx="434.35" cy="505.00" r="2.05" fill="#fff" stroke="#222" stroke-width="0.9"/>
<circle cx="463.80" cy="505.00" r="2.05" fill="#fff" stroke="#222" stroke-width="0.9"/>
<path d="M284.70,369.20 L289.50,369.20 L287.10,373.40 Z" fill="#000"/>
<path d="M314.15,442.28 L318.95,442.28 L316.55,446.48 Z" fill="#000"/>
<path d="M343.60,496.06 L348.40,496.06 L346.00,500.26 Z" fill="#000"/>
<path d="M373.05,503.30 L377.85,503.30 L375.45,507.50 Z" fill="#000"/>
<path d="M402.50,503.30 L407.30,503.30 L404.90,507.50 Z" fill="#000"/>
<path d="M431.95,503.30 L436.75,503.30 L434.35,507.50 Z" fill="#000"/>
<path d="M461.40,503.30 L466.20,503.30 L463.80,507.50 Z" fill="#000"/>
<path d="M285.10,372.40 L289.10,372.40 L287.10,368.90 Z" fill="#fff" stroke="#000" stroke-width="0.8"/>
<path d="M314.55,428.45 L318.55,428.45 L316.55,424.95 Z" fill="#fff" stroke="#000" stroke-width="0.8"/>
<path d="M344.00,477.40 L348.00,477.40 L346.00,473.90 Z" fill="#fff" stroke="#000" stroke-width="0.8"/>
<path d="M373.45,494.97 L377.45,494.97 L375.45,491.47 Z" fill="#fff" stroke="#000" stroke-width="0.8"/>
<path d="M402.90,499.80 L406.90,499.80 L404.90,496.30 Z" fill="#fff" stroke="#000" stroke-width="0.8"/>
<path d="M432.35,502.88 L436.35,502.88 L434.35,499.38 Z" fill="#fff" stroke="#000" stroke-width="0.8"/>
<path d="M461.80,504.35 L465.80,504.35 L463.80,500.85 Z" fill="#fff" stroke="#000" stroke-width="0.8"/>
<line x1="286.80" y1="29.50" x2="286.80" y2="513.60" stroke="#7a7a7a" stroke-width="1"/>
<line x1="287.10" y1="511.60" x2="493.00" y2="511.60" stroke="#7a7a7a" stroke-width="1"/>
<line x1="287.10" y1="511.60" x2="287.10" y2="513.80" stroke="#7a7a7a" stroke-width="1"/>
<text x="287.10" y="522.70" text-anchor="middle" font-size="8" font-weight="bold">0</text>
<line x1="316.55" y1="511.60" x2="316.55" y2="513.80" stroke="#7a7a7a" stroke-width="1"/>
<text x="316.55" y="522.70" text-anchor="middle" font-size="8" font-weight="bold">15</text>
<line x1="346.00" y1="511.60" x2="346.00" y2="513.80" stroke="#7a7a7a" stroke-width="1"/>
<text x="346.00" y="522.70" text-anchor="middle" font-size="8" font-weight="bold">30</text>
<line x1="375.45" y1="511.60" x2="375.45" y2="513.80" stroke="#7a7a7a" stroke-width="1"/>
<text x="375.45" y="522.70" text-anchor="middle" font-size="8" font-weight="bold">45</text>
<line x1="404.90" y1="511.60" x2="404.90" y2="513.80" stroke="#7a7a7a" stroke-width="1"/>
<text x="404.90" y="522.70" text-anchor="middle" font-size="8" font-weight="bold">60</text>
<line x1="434.35" y1="511.60" x2="434.35" y2="513.80" stroke="#7a7a7a" stroke-width="1"/>
<text x="434.35" y="522.70" text-anchor="middle" font-size="8" font-weight="bold">75</text>
<line x1="463.80" y1="511.60" x2="463.80" y2="513.80" stroke="#7a7a7a" stroke-width="1"/>
<text x="463.80" y="522.70" text-anchor="middle" font-size="8" font-weight="bold">90</text>
<text x="375.45" y="538.3" text-anchor="middle" font-size="9.0" font-weight="bold">Storage (days)</text>
<line x1="49" y1="38.4" x2="86" y2="38.4" stroke="#e4e4e4" stroke-width="1" stroke-dasharray="2.5,2.5"/>
<rect x="53.5" y="142.0" width="88.80000000000001" height="43.5" rx="1" fill="#fff" stroke="#444" stroke-width="1.2"/>
<line x1="59" y1="149.4" x2="97.6" y2="149.4" stroke="#222" stroke-width="1.15" stroke-dasharray="6.4,2,1,1.4,1,2"/>
<g transform="translate(78.3,149.4) scale(1.12) translate(-78.3,-149.4)"><circle cx="78.30" cy="149.40" r="2.1" fill="#000"/></g>
<text x="102.3" y="152.30" font-size="8.2" font-weight="bold">TO</text>
<line x1="59" y1="158.8" x2="97.6" y2="158.8" stroke="#86606a" stroke-width="1.15"/>
<g transform="translate(78.3,158.8) scale(1.12) translate(-78.3,-158.8)"><circle cx="78.30" cy="158.80" r="2.05" fill="#fff" stroke="#222" stroke-width="0.9"/></g>
<text x="102.3" y="161.70" font-size="8.2" font-weight="bold">TO/α-CDs</text>
<line x1="59" y1="168.3" x2="97.6" y2="168.3" stroke="#878c68" stroke-width="1.15"/>
<g transform="translate(78.3,168.3) scale(1.12) translate(-78.3,-168.3)"><path d="M75.90,166.60 L80.70,166.60 L78.30,170.80 Z" fill="#000"/></g>
<text x="102.3" y="171.20" font-size="8.2" font-weight="bold">TO/β-CDs</text>
<line x1="59" y1="177.7" x2="97.6" y2="177.7" stroke="#505050" stroke-width="1.15"/>
<g transform="translate(78.3,177.7) scale(1.12) translate(-78.3,-177.7)"><path d="M76.30,179.20 L80.30,179.20 L78.30,175.70 Z" fill="#fff" stroke="#000" stroke-width="0.8"/></g>
<text x="102.3" y="180.60" font-size="8.2" font-weight="bold">TO/γ-CDs</text></svg></body></html>
